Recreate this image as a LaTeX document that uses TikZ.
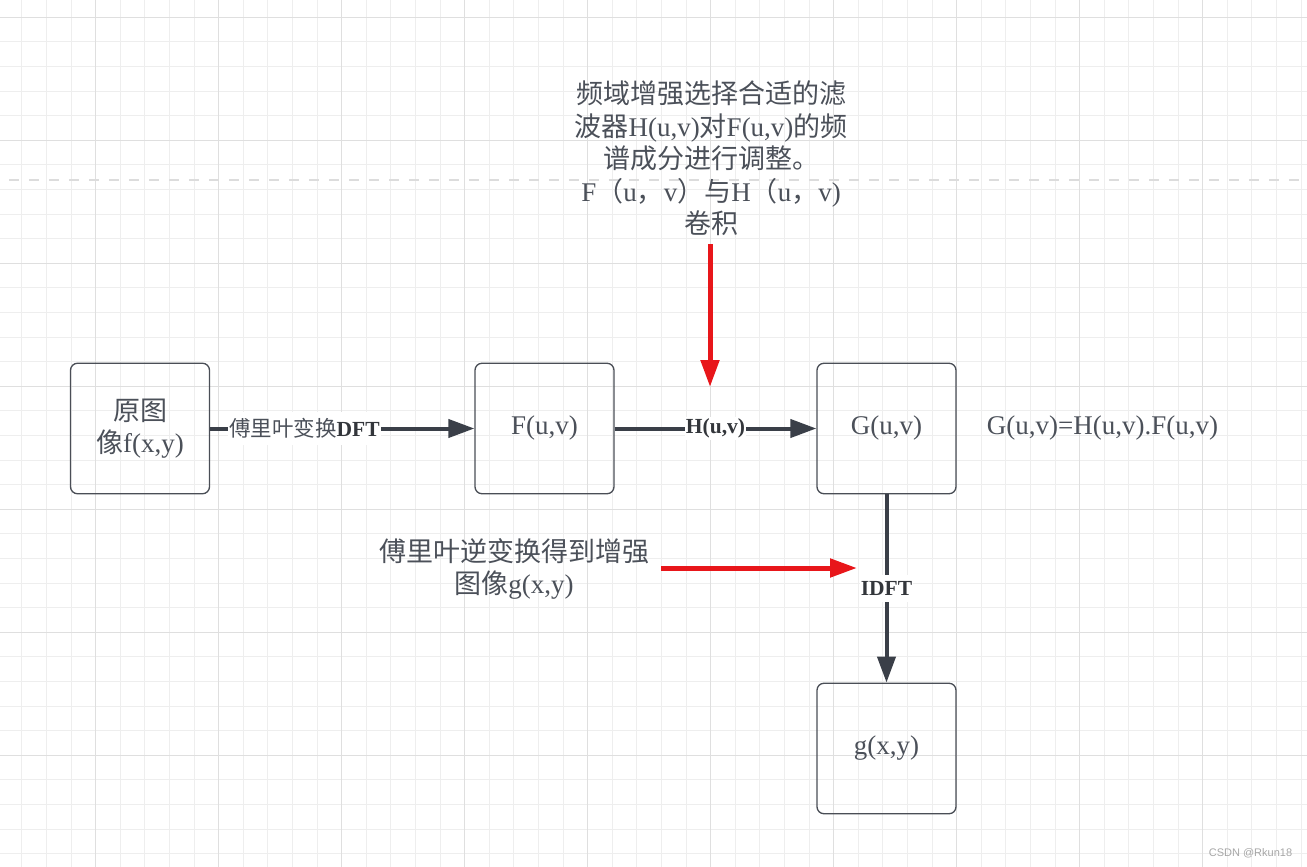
\documentclass[tikz,border=0pt]{standalone}
\usepackage{fontspec}
\setmainfont{Liberation Serif}
\newfontfamily\zhfont{Noto Sans CJK SC}
\newfontfamily\wmfont{Liberation Sans}
\newcommand{\zh}[1]{{\zhfont #1}}
\usetikzlibrary{positioning, arrows.meta}

\definecolor{txtgrey}{HTML}{4B5059}
\definecolor{lblgrey}{HTML}{33363B}
\definecolor{boxline}{HTML}{4A4E56}
\definecolor{arrowgrey}{HTML}{3A3F48}
\definecolor{hintred}{HTML}{E8161A}
\definecolor{minorline}{HTML}{EEEEEE}
\definecolor{majorline}{HTML}{DFDFDF}
\definecolor{dashline}{HTML}{DCDCDC}

\begin{document}
\begin{tikzpicture}[x=1pt, y=-1pt,
    box/.style={rectangle, draw=boxline, line width=1.3pt, rounded corners=7pt, minimum width=139pt, minimum height=130.5pt, align=center, text=txtgrey, inner sep=0pt, font=\fontsize{27}{32.5}\selectfont},
    note/.style={align=center, text=txtgrey, inner sep=0pt, font=\fontsize{27}{32.5}\selectfont},
    lbl/.style={fill=white, inner xsep=1pt, inner ysep=6pt, text=lblgrey, font=\fontsize{21.5}{24}\selectfont\bfseries},
    flow/.style={draw=arrowgrey, line width=4pt, -{Triangle[length=26pt, width=18pt]}},
    hint/.style={draw=hintred, line width=5pt, -{Triangle[length=27pt, width=18pt]}}]
    \useasboundingbox (0,0) rectangle (1307,867);
    % grid
    \foreach \i in {0,...,54}
        \draw[minorline, line width=1pt] ({-2.7+24.6*\i},0) -- ({-2.7+24.6*\i},867);
    \foreach \j in {0,...,36}
        \draw[minorline, line width=1pt] (0,{-7.3+24.6*\j}) -- (1307,{-7.3+24.6*\j});
    \foreach \i in {0,...,9}
        \draw[majorline, line width=1.2pt] ({95.7+123*\i},0) -- ({95.7+123*\i},867);
    \foreach \j in {0,...,6}
        \draw[majorline, line width=1.2pt] (0,{17.3+123*\j}) -- (1307,{17.3+123*\j});
    \draw[dashline, line width=2.5pt, dash pattern=on 10pt off 10pt] (9,180) -- (1307,180);

    % boxes
    \node[box] (orig) at (140,428.5) {\zh{原图}\\\zh{像}f(x,y)};
    \node[box, right=264.2pt of orig] (F) {F(u,v)};
    \node[box, right=201.7pt of F] (G) {G(u,v)};
    \node[box, below=188.2pt of G] (g) {g(x,y)};

    % texts
    \node[note] (filt) at (711,158.5) {\zh{频域增强选择合适的滤}\\\zh{波器}H(u,v)\zh{对}F(u,v)\zh{的频}\\\zh{谱成分进行调整。}\\F\zh{（}u\zh{，}v\zh{）与}H\zh{（}u\zh{，}v)\\\zh{卷积}};
    \node[note, right=30pt of G] (eq) {G(u,v)=H(u,v).F(u,v)};
    \node[note] (inv) at (514,569) {\zh{傅里叶逆变换得到增强}\\\zh{图像}g(x,y)};
    \node[text=black!35, inner sep=0pt, font=\wmfont\fontsize{11}{13}\selectfont] (mark) at (1250.5,853) {CSDN @Rkun18};

    % connectors
    \draw[flow] (orig) -- node[lbl, pos=0.357] {\zh{\mdseries\color{txtgrey}傅里叶变换}DFT} (F);
    \draw[flow] (F) -- node[lbl, inner ysep=2pt] {H(u,v)} (G);
    \draw[flow] (G) -- node[lbl] {IDFT} (g);

    \coordinate (htop) at (710,244);
    \coordinate (htip) at (710,387);
    \coordinate (istart) at (661,568);
    \coordinate (itip) at (857,568);
    \draw[hint] (htop) -- (htip);
    \draw[hint] (istart) -- (itip);
\end{tikzpicture}
\end{document}
